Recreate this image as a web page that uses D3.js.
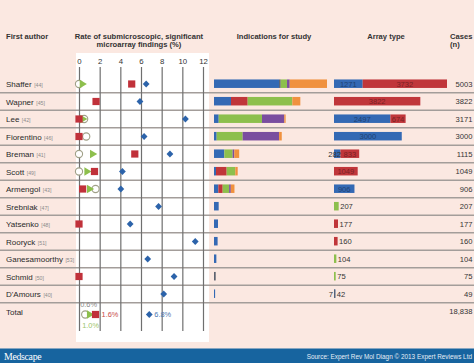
<!DOCTYPE html>
<html><head><meta charset="utf-8">
<script src="https://cdn.jsdelivr.net/npm/d3@7"></script>
<style>
body{margin:0;background:#fbe8e1;}
svg{display:block;font-family:"Liberation Sans",Arial,Helvetica,sans-serif;}
</style>
</head><body>
<svg id="chart" width="474" height="363"></svg>
<script>
// ---------------- DATA ----------------
const authors = ["Shaffer","Wapner","Lee","Fiorentino","Breman","Scott","Armengol","Srebniak","Yatsenko","Rooryck","Ganesamoorthy","Schmid","D'Amours"];
const refs = ["[44]","[45]","[42]","[46]","[41]","[49]","[43]","[47]","[48]","[51]","[53]","[50]","[40]"];
const totalLabel = "Total";
const cases = [5003,3822,3171,3000,1115,1049,906,207,177,160,104,75,49];
const totalCases = 18838;

// Rate of submicroscopic significant findings (%), by marker series
const rateTicks = [0,2,4,6,8,10,12];
const rateCircle   = [0, null, 0.5, 0.7, 0, 0, 1.6, null, null, null, null, null, null];
const rateTriangle = [0.3, null, 0.35, null, 1.3, 0.75, 1.0, null, null, null, null, null, null];
const rateSquare   = [5.1, 1.65, 0, 0, 5.4, 1.5, 0.35, null, 0, null, null, 0, null];
const rateDiamond  = [6.5, 5.9, 10.3, 6.3, 8.8, 4.2, 4.05, 7.7, 4.95, 11.25, 6.65, 9.2, 8.2];
const totalRateSeries = ["circle","triangle","square","diamond"];
const totalRateValues = [0.6, 1.0, 1.6, 6.8];

// Indications for study (number of cases per indication category)
const indKeys   = ["blue","gray","red","green","purple","orange"];
const indBlue   = [2879, 752, 208, 118, 457, 88, 192, 207, 177, 160, 104, 0, 49];
const indGray   = [75, 0, 0, 0, 0, 0, 0, 0, 0, 0, 0, 75, 0];
const indRed    = [0, 739, 0, 0, 0, 472, 192, 0, 0, 0, 0, 0, 0];
const indGreen  = [279, 1977, 1916, 1151, 369, 384, 286, 0, 0, 0, 0, 0, 0];
const indPurple = [120, 0, 989, 1613, 74, 0, 74, 0, 0, 0, 0, 0, 0];
const indOrange = [1650, 354, 58, 118, 215, 105, 162, 0, 0, 0, 0, 0, 0];

// Array type (number of cases per array platform)
const arrKeys  = ["blue","red","green","gray"];
const arrBlue  = [1271, 0, 2497, 3000, 282, 0, 906, 0, 0, 0, 0, 0, 7];
const arrRed   = [3732, 3822, 674, 0, 833, 1049, 0, 0, 177, 160, 0, 0, 0];
const arrGreen = [0, 0, 0, 0, 0, 0, 0, 207, 0, 0, 104, 75, 0];
const arrGray  = [0, 0, 0, 0, 0, 0, 0, 0, 0, 0, 0, 0, 42];

// ---------------- STYLE ----------------
const colors = {blue:"#3469b4", red:"#c0363a", green:"#8dbf4d", purple:"#7a4d9f", orange:"#f0913e", gray:"#5d6370"};
const markerColors = {circle:"#a0a088", triangle:"#8dbf4d", square:"#c0313a", diamond:"#2c63aa"};
const totalLabelColors = {circle:"#8a8a8a", triangle:"#9dc46a", square:"#c94a48", diamond:"#4a77b0"};
const bg = "#fbe8e1";

const svg = d3.select("#chart");
svg.append("rect").attr("width",474).attr("height",363).attr("fill",bg);

const rowNames = authors.concat([totalLabel]);
const y = d3.scaleBand().domain(d3.range(rowNames.length)).range([75.25, 75.25 + 17.5*rowNames.length]).padding(0);
const yc = i => y(i) + y.bandwidth()/2;

// white panel for dot plot
svg.append("rect").attr("x",76).attr("y",53).attr("width",133).attr("height",289).attr("fill","#ffffff");

// row separators
svg.append("g").selectAll("line").data(d3.range(authors.length)).join("line")
  .attr("x1",0).attr("x2",474)
  .attr("y1",i=>y(i)+y.bandwidth()).attr("y2",i=>y(i)+y.bandwidth())
  .attr("stroke","#a39d9a").attr("stroke-width",1.5);

// headers
const hdr = svg.append("g").attr("fill","#333").attr("font-weight","bold").attr("font-size",7.6);
hdr.append("text").attr("x",6).attr("y",38.5).text("First author");
hdr.append("text").attr("x",139).attr("y",38.5).attr("text-anchor","middle").text("Rate of submicroscopic, significant");
hdr.append("text").attr("x",139).attr("y",47).attr("text-anchor","middle").text("microarray findings (%)");
hdr.append("text").attr("x",274).attr("y",38.5).attr("text-anchor","middle").text("Indications for study");
hdr.append("text").attr("x",386).attr("y",38.5).attr("text-anchor","middle").text("Array type");
hdr.append("text").attr("x",450).attr("y",38.5).text("Cases");
hdr.append("text").attr("x",450).attr("y",47).text("(n)");

// author labels
const lab = svg.append("g");
rowNames.forEach((n,i)=>{
  const t = lab.append("text").attr("x",6).attr("y",yc(i)+3).attr("fill","#2a2a2a").attr("font-size",8);
  t.append("tspan").text(n);
  if(i < refs.length) t.append("tspan").attr("font-size",5.2).attr("fill","#8a8a8a").attr("dx",2.5).text(refs[i]);
});

// dot plot axis & grid
const x = d3.scaleLinear().domain([0,12]).range([79,203]);
const axis = svg.append("g").attr("transform","translate(0,67)")
  .call(d3.axisTop(x).tickValues(rateTicks).tickSize(-264).tickPadding(3));
axis.select(".domain").remove();
axis.selectAll(".tick line").attr("stroke","#6f6f6f").attr("stroke-width",1.2);
axis.selectAll(".tick text").attr("fill","#333").attr("font-size",7.8).attr("font-family","Liberation Sans, Arial, sans-serif");

function marker(g, type, cx, cy){
  if(type==="circle"){
    g.append("circle").attr("cx",cx).attr("cy",cy).attr("r",3.6)
      .attr("fill","#fff").attr("stroke",markerColors.circle).attr("stroke-width",1.1);
  } else if(type==="triangle"){
    g.append("path").attr("d",d3.symbol(d3.symbolTriangle,30)())
      .attr("transform",`translate(${cx},${cy}) rotate(90)`).attr("fill",markerColors.triangle);
  } else if(type==="square"){
    g.append("path").attr("d",d3.symbol(d3.symbolSquare,52)())
      .attr("transform",`translate(${cx},${cy})`).attr("fill",markerColors.square);
  } else {
    g.append("path").attr("d",d3.symbol(d3.symbolSquare,23)())
      .attr("transform",`translate(${cx},${cy}) rotate(45)`).attr("fill",markerColors.diamond);
  }
}
const mk = svg.append("g");
const series = [["circle",rateCircle],["triangle",rateTriangle],["square",rateSquare],["diamond",rateDiamond]];
series.forEach(([type,arr])=>{
  arr.forEach((v,i)=>{ if(v!==null) marker(mk,type,x(v),yc(i)); });
});
// total row
const ti = authors.length;
const tY = yc(ti)+3;
totalRateSeries.forEach((type,k)=> marker(mk,type,x(totalRateValues[k]),tY));
const fmt = v => d3.format(".1f")(v)+"%";
const tl = svg.append("g").attr("font-size",7.4);
tl.append("text").attr("x",x(totalRateValues[0])-5).attr("y",tY-8).attr("fill",totalLabelColors.circle).text(fmt(totalRateValues[0]));
tl.append("text").attr("x",x(totalRateValues[2])+6).attr("y",tY+2.8).attr("fill",totalLabelColors.square).text(fmt(totalRateValues[2]));
tl.append("text").attr("x",x(totalRateValues[0])-3).attr("y",tY+13.5).attr("fill",totalLabelColors.triangle).text(fmt(totalRateValues[1]));
tl.append("text").attr("x",x(totalRateValues[3])+5).attr("y",tY+2.8).attr("fill",totalLabelColors.diamond).text(fmt(totalRateValues[3]));

// bar scale (cases)
const w = d3.scaleLinear().domain([0,d3.max(cases)]).range([0,113]);
const barH = 8.5;

// indications
const indTable = authors.map((a,i)=>({blue:indBlue[i],gray:indGray[i],red:indRed[i],green:indGreen[i],purple:indPurple[i],orange:indOrange[i]}));
const indStack = d3.stack().keys(indKeys)(indTable);
const indG = svg.append("g").attr("transform","translate(214,0)");
indStack.forEach(layer=>{
  indG.append("g").attr("fill",colors[layer.key]).selectAll("rect")
    .data(layer.map((d,i)=>({d,i})).filter(o=>o.d[1]-o.d[0]>0)).join("rect")
    .attr("x",o=>w(o.d[0])).attr("width",o=>Math.max(w(o.d[1])-w(o.d[0]),0.9))
    .attr("y",o=>yc(o.i)-barH/2-0.3).attr("height",barH);
});

// array type
const arrTable = authors.map((a,i)=>({blue:arrBlue[i],red:arrRed[i],green:arrGreen[i],gray:arrGray[i]}));
const arrStack = d3.stack().keys(arrKeys)(arrTable);
const arrX0 = 334;
const arrG = svg.append("g").attr("transform",`translate(${arrX0},0)`);
arrStack.forEach(layer=>{
  arrG.append("g").attr("fill",colors[layer.key]).selectAll("rect")
    .data(layer.map((d,i)=>({d,i})).filter(o=>o.d[1]-o.d[0]>0)).join("rect")
    .attr("x",o=>w(o.d[0])).attr("width",o=>Math.max(w(o.d[1])-w(o.d[0]),1.2))
    .attr("y",o=>yc(o.i)-barH/2-0.3).attr("height",barH);
});
// array labels
const labG = arrG.append("g").attr("font-size",7.6);
authors.forEach((a,i)=>{
  const segs = arrStack.map(layer=>({key:layer.key,v0:layer[i][0],v1:layer[i][1]})).filter(s=>s.v1-s.v0>0);
  segs.forEach((s,k)=>{
    const x0 = w(s.v0), x1 = w(s.v1), sw = x1-x0;
    const t = labG.append("text").attr("y",yc(i)+2.6).text(s.v1-s.v0);
    const tw = t.node().getComputedTextLength();
    if(sw >= tw+2){
      t.attr("x",(x0+x1)/2).attr("text-anchor","middle").attr("fill",d3.color(colors[s.key]).darker(1.3));
    } else if(k===segs.length-1){
      t.attr("x",Math.max(x1,1.2)+1.5).attr("fill","#333");
    } else {
      t.attr("x",x1 - (x1<1?1.2:-0.5)).attr("text-anchor","end").attr("fill","#333");
    }
  });
});

// cases column
const cg = svg.append("g").attr("font-size",7.6).attr("fill","#333").attr("text-anchor","end");
cases.forEach((c,i)=> cg.append("text").attr("x",472.5).attr("y",yc(i)+2.7).text(c));
cg.append("text").attr("x",472.5).attr("y",yc(ti)+2.7).text(d3.format(",")(totalCases));

// footer
svg.append("rect").attr("x",0).attr("y",348.5).attr("width",474).attr("height",14.5).attr("fill","#17649f");
svg.append("text").attr("x",4).attr("y",359.5).attr("fill","#fff").attr("font-size",9.8)
  .attr("font-family","Liberation Serif, DejaVu Serif, serif").attr("letter-spacing",-0.3).text("Medscape");
svg.append("text").attr("x",472).attr("y",358.5).attr("fill","#e6eef6").attr("font-size",6.4)
  .attr("text-anchor","end").text("Source: Expert Rev Mol Diagn © 2013 Expert Reviews Ltd");
</script>
</body></html>
